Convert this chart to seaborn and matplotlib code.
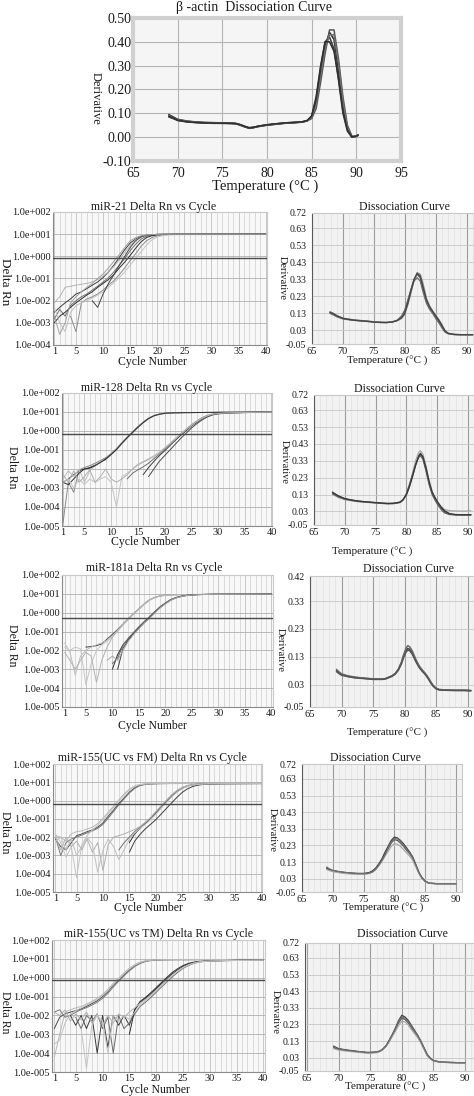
import numpy as np
import pandas as pd
import matplotlib
matplotlib.use("Agg")
import matplotlib.pyplot as plt
import seaborn as sns
from matplotlib.ticker import NullLocator

N = np.nan
W, H = 474, 1096

# ---------------- amplification data (Delta Rn per cycle) ----------------
CYCLES = list(range(1, 31)) + [33, 36, 40]
AMP_YTICKS = [1e2, 1e1, 1e0, 1e-1, 1e-2, 1e-3, 1e-4, 1e-5]
AMP_YLABELS = ["1.0e+002", "1.0e+001", "1.0e+000", "1.0e-001",
               "1.0e-002", "1.0e-003", "1.0e-004", "1.0e-005"]
CYCLE_TICKS = [1, 5, 10, 15, 20, 25, 30, 35, 40]

mir21_rn = {
    "A": [3e-3, 5e-3, 8e-3, 1.2e-2, 2e-2, 2.5e-2, 3.5e-2, 5e-2, 7e-2, 1.1e-1, 2e-1, 4e-1, 9e-1, 2.0, 4.0, 6.0, 8.0, 9.0, 9.5, 9.8,
          9.9, 10, 10, 10, 10, 10, 10.1, 10.1, 10.1, 10.1, 10.1, 10.2, 10.2],
    "B": [8e-3, 1.5e-2, 4e-2, 4.5e-2, 5e-2, 5.5e-2, 6e-2, 7e-2, 9e-2, 1.3e-1, 2e-1, 3.5e-1, 7e-1, 1.5, 3.0, 5.5, 7.5, 8.5, 9.0, 9.5,
          9.7, 9.8, 9.8, 9.9, 9.9, 9.9, 10, 10, 10, 10, 10, 10, 10.1],
    "C": [1.5e-3, 4e-3, 2e-3, 6e-3, 1e-2, 1.5e-2, 2e-2, 3e-2, 4.5e-2, 7e-2, 1.1e-1, 2e-1, 4e-1, 8e-1, 1.8, 3.5, 6.0, 8.0, 9.0, 9.5,
          9.7, 9.8, 9.8, 9.9, 9.9, 9.9, 9.9, 10, 10, 10, 10, 10, 10],
    "D": [1e-3, 2e-3, 3e-3, 5e-3, 8e-3, 1.2e-2, 1.8e-2, 2.5e-2, 4e-2, 6e-2, 9e-2, 1.5e-1, 3e-1, 5.5e-1, 1.1, 2.3, 4.5, 7.0, 8.5, 9.2,
          9.5, 9.7, 9.8, 9.8, 9.8, 9.9, 9.9, 9.9, 9.9, 9.9, 9.9, 9.9, 10],
    "E": [N, N, N, 2e-3, 4e-4, 8e-3, 1.2e-2, 1.5e-2, 2e-2, 3e-2, 5e-2, 8e-2, 1.5e-1, 3e-1, 6.5e-1, 1.3, 2.8, 5.0, 7.0, 8.5,
          9.2, 9.6, 9.7, 9.8, 9.8, 9.8, 9.8, 9.8, 9.8, 9.8, 9.8, 9.8, 9.9],
    "F": [5e-3, 1e-3, 4e-4, 3e-3, 6e-3, 8e-3, 1e-2, 1.3e-2, 1.8e-2, 2.5e-2, 4e-2, 6.5e-2, 1.1e-1, 2e-1, 4e-1, 8e-1, 1.6, 3.2, 5.5, 7.5,
          8.5, 9.2, 9.4, 9.5, 9.5, 9.5, 9.5, 9.5, 9.5, 9.5, 9.5, 9.6, 9.6],
    "G": [N, N, N, N, N, N, N, 1e-2, 5e-3, 2e-2, 6e-2, 1.5e-1, 4e-1, 1.0, 2.5, 5.0, 7.5, 9.0, 9.5, 9.8,
          10, 10, 10, 10, 10, 10, 10, 10, 10, 10, 10, 10, 10],
    "H": [2e-3, 3e-4, 1e-3, 8e-3, 1.5e-2, 2.5e-2, 4e-2, 6e-2, 1e-1, 1.6e-1, 3e-1, 6e-1, 1.2, 2.5, 5.0, 7.0, 8.5, 9.2, 9.6, 9.8,
          10, 10, 10, 10, 10, 10, 10, 10, 10, 10, 10, 10, 10],
}
mir21_threshold = 0.8

mir128_rn = {
    "E1": [2e-3, 3e-3, 5e-3, 8e-3, 1e-2, 1.2e-2, 1.6e-2, 2.3e-2, 3.5e-2, 6e-2, 1.1e-1, 2.3e-1, 4.5e-1, 8.5e-1, 1.6, 2.8, 4.5, 6.3, 7.6, 8.5,
           8.9, 9.1, 9.2, 9.3, 9.3, 9.4, 9.4, 9.5, 9.5, 9.6, 9.7, 9.8, 10],
    "E2": [1.5e-5, 2e-3, 6e-4, 9e-3, 1.2e-2, 1.5e-2, 2e-2, 2.8e-2, 4e-2, 6.5e-2, 1.2e-1, 2.4e-1, 4.8e-1, 9e-1, 1.7, 3.0, 4.8, 6.5, 7.8, 8.6,
           9.0, 9.1, 9.2, 9.3, 9.4, 9.4, 9.5, 9.5, 9.6, 9.6, 9.7, 9.8, 10],
    "E3": [3e-3, 8e-3, 4e-3, 1e-2, 2e-3, 8e-3, 1.5e-2, 2.5e-2, 3e-2, 5.5e-2, 1e-1, 2.1e-1, 4.3e-1, 8e-1, 1.5, 2.7, 4.4, 6.2, 7.5, 8.4,
           8.8, 9.0, 9.1, 9.2, 9.3, 9.3, 9.4, 9.4, 9.5, 9.5, 9.6, 9.7, 9.9],
    "E4": [2e-3, 1.5e-3, 3e-3, 6e-3, 1e-2, 1.1e-2, 1.5e-2, 2.2e-2, 3.3e-2, 5.8e-2, 1.05e-1, 2.2e-1, 4.4e-1, 8.3e-1, 1.55, 2.75, 4.5, 6.3, 7.6, 8.5,
           8.9, 9.1, 9.2, 9.3, 9.3, 9.4, 9.4, 9.5, 9.5, 9.6, 9.7, 9.8, 10],
    "La": [N, N, N, N, N, N, N, N, N, N, N, N, N, N, N, 5e-3, 1.2e-2, 2.5e-2, 5e-2, 9e-2,
           1.7e-1, 3.2e-1, 5.8e-1, 1.0, 1.8, 2.8, 4.3, 6.0, 7.3, 8.2, 9.2, 9.5, 9.8],
    "Lb": [N, N, N, N, N, N, N, N, N, N, N, N, 3e-3, 6e-3, 9e-3, 1.3e-2, 2e-2, 3.5e-2, 6e-2, 1.1e-1,
           2e-1, 3.8e-1, 7e-1, 1.2, 2.1, 3.3, 5.0, 6.6, 7.8, 8.5, 9.2, 9.5, 9.8],
    "Lc": [2e-3, 3e-3, 1e-3, 3e-3, 1.5e-3, 3e-3, 2e-3, 3e-3, 4e-3, 2e-3, 1e-4, 4e-3, 6e-3, 1e-2, 1.8e-2, 2.5e-2, 3.5e-2, 5e-2, 8e-2, 1.3e-1,
           2.2e-1, 4e-1, 7e-1, 1.2, 2.0, 3.1, 4.6, 6.2, 7.4, 8.2, 9.1, 9.4, 9.7],
    "Ld": [N, N, N, N, N, N, N, N, N, N, N, N, N, N, N, N, 4e-3, 1e-2, 2.5e-2, 5e-2,
           1e-1, 2e-1, 4e-1, 7.5e-1, 1.4, 2.4, 3.8, 5.5, 7.0, 8.0, 9.0, 9.4, 9.7],
    "Le": [5e-3, 2e-3, 8e-3, 2e-3, 4e-3, 9e-3, 2e-3, 4e-3, 1e-2, 3e-3, 2e-3, 3e-3, 5e-3, 1e-2, 1.6e-2, 2.3e-2, 3.2e-2, 4.5e-2, 7e-2, 1.2e-1,
           2.1e-1, 3.8e-1, 6.8e-1, 1.2, 2.0, 3.2, 4.8, 6.4, 7.6, 8.4, 9.2, 9.5, 9.8],
}
mir128_threshold = 0.72

mir181a_rn = {
    "A1": [N, N, N, N, 1.5e-2, 1.6e-2, 1.8e-2, 2.2e-2, 4e-2, 7e-2, 1.3e-1, 2.5e-1, 4.8e-1, 9e-1, 1.6, 2.9, 4.8, 6.5, 7.8, 8.5,
           8.9, 9.1, 9.2, 9.2, 9.3, 9.3, 9.3, 9.4, 9.4, 9.4, 9.5, 9.5, 9.6],
    "A2": [2.5e-2, 8e-3, 5e-4, 5e-3, 1e-2, 1.5e-2, 2e-2, 2.5e-2, 3.5e-2, 6e-2, 1.2e-1, 2.4e-1, 4.6e-1, 8.7e-1, 1.6, 2.8, 4.7, 6.4, 7.7, 8.4,
           8.8, 9.0, 9.1, 9.2, 9.2, 9.3, 9.3, 9.3, 9.4, 9.4, 9.5, 9.5, 9.6],
    "A3": [1.5e-2, 1e-2, 1.5e-2, 1.2e-2, 1.5e-4, 2e-3, 1e-2, 2e-2, 3e-2, 5.5e-2, 1.1e-1, 2.2e-1, 4.4e-1, 8.4e-1, 1.5, 2.7, 4.6, 6.3, 7.6, 8.4,
           8.8, 9.0, 9.1, 9.1, 9.2, 9.2, 9.3, 9.3, 9.3, 9.4, 9.4, 9.5, 9.5],
    "A4": [8e-3, 3e-3, 1e-3, 3e-3, 8e-3, 5e-3, 2e-4, 3e-3, 1.5e-2, 5e-2, 1.1e-1, 2.3e-1, 4.5e-1, 8.5e-1, 1.55, 2.8, 4.7, 6.4, 7.7, 8.4,
           8.8, 9.0, 9.1, 9.2, 9.2, 9.3, 9.3, 9.3, 9.4, 9.4, 9.5, 9.5, 9.6],
    "B1": [N, N, N, N, N, N, N, N, N, 1e-3, 6e-3, 2e-2, 4e-2, 8.5e-2, 1.7e-1, 3.2e-1, 5.8e-1, 1.1, 2.0, 3.2,
           4.9, 6.3, 7.5, 8.3, 8.8, 9.1, 9.3, 9.4, 9.5, 9.5, 9.6, 9.6, 9.7],
    "B2": [N, N, N, N, N, N, N, N, N, N, 1e-3, 1.3e-2, 3.5e-2, 7.5e-2, 1.5e-1, 2.9e-1, 5.3e-1, 1.0, 1.85, 3.0,
           4.6, 6.1, 7.3, 8.2, 8.7, 9.0, 9.2, 9.3, 9.4, 9.5, 9.5, 9.6, 9.7],
    "B3": [N, N, N, N, N, N, N, N, N, 2e-3, 4e-3, 1.8e-2, 4.5e-2, 9e-2, 1.8e-1, 3.4e-1, 6.2e-1, 1.15, 2.1, 3.3,
           5.0, 6.4, 7.6, 8.4, 8.9, 9.2, 9.3, 9.4, 9.5, 9.5, 9.6, 9.6, 9.7],
    "B4": [N, N, N, N, N, N, N, N, 3e-3, 5e-3, 3e-3, 1e-2, 3e-2, 7e-2, 1.4e-1, 2.8e-1, 5e-1, 9.5e-1, 1.8, 2.9,
           4.5, 6.0, 7.2, 8.1, 8.7, 9.0, 9.2, 9.3, 9.4, 9.4, 9.5, 9.6, 9.6],
}
mir181a_threshold = 0.52

mir155fm_rn = {
    "F1": [8e-3, 3e-3, 2e-3, 5e-3, 1.2e-2, 1.5e-2, 2e-2, 2.5e-2, 3.5e-2, 6e-2, 1.4e-1, 3e-1, 7e-1, 1.4, 2.9, 5.0, 6.9, 7.8, 8.2, 8.4,
           8.5, 8.5, 8.6, 8.6, 8.6, 8.6, 8.7, 8.7, 8.7, 8.7, 8.7, 8.7, 8.7],
    "F2": [1.2e-2, 1e-2, 6e-3, 1.5e-2, 2e-2, 2.2e-2, 2.8e-2, 3.5e-2, 5.5e-2, 1.1e-1, 2.3e-1, 5e-1, 1.1, 2.3, 4.3, 6.4, 7.6, 8.2, 8.5, 8.6,
           8.6, 8.7, 8.7, 8.7, 8.7, 8.7, 8.8, 8.8, 8.8, 8.8, 8.8, 8.8, 8.8],
    "F3": [1e-2, 1e-3, 5e-3, 8e-3, 1e-2, 1.3e-2, 1.7e-2, 2.2e-2, 3e-2, 5e-2, 1.1e-1, 2.5e-1, 5.8e-1, 1.25, 2.6, 4.6, 6.6, 7.6, 8.1, 8.3,
           8.4, 8.5, 8.5, 8.5, 8.6, 8.6, 8.6, 8.6, 8.6, 8.6, 8.6, 8.6, 8.6],
    "F4": [1.5e-2, 5e-3, 8e-4, 3e-3, 6e-5, 4e-3, 1.2e-2, 2.5e-2, 4.5e-2, 9e-2, 1.9e-1, 4.2e-1, 9.5e-1, 2.0, 3.8, 6.0, 7.4, 8.1, 8.4, 8.5,
           8.6, 8.6, 8.6, 8.7, 8.7, 8.7, 8.7, 8.7, 8.7, 8.7, 8.7, 8.7, 8.7],
    "G1": [N, N, N, N, N, N, N, N, N, N, N, N, N, N, 5e-3, 1.5e-2, 3e-2, 5.5e-2, 1e-1, 2e-1,
           4.2e-1, 8.5e-1, 1.7, 3.0, 4.7, 6.3, 7.3, 7.8, 8.1, 8.2, 8.4, 8.5, 8.6],
    "G2": [N, N, N, N, N, N, N, N, N, N, N, N, N, N, 1.5e-3, 6e-3, 1.4e-2, 2.8e-2, 5e-2, 9e-2,
           1.8e-1, 3.7e-1, 7.5e-1, 1.5, 2.8, 4.4, 5.9, 7.0, 7.6, 7.9, 8.2, 8.3, 8.4],
    "G3": [N, N, N, N, N, N, N, N, N, N, N, N, 2e-3, 5e-3, 1e-2, 2e-2, 3.5e-2, 6e-2, 1.1e-1, 2.3e-1,
           4.8e-1, 9.5e-1, 1.9, 3.3, 5.0, 6.5, 7.4, 7.9, 8.2, 8.3, 8.5, 8.6, 8.6],
    "G4": [1e-2, 2e-3, 1e-2, 3e-3, 6e-3, 2e-3, 8e-3, 1.5e-3, 5e-3, 1.5e-4, 4e-3, 1e-2, 1.2e-2, 1.5e-2, 2e-2, 2.6e-2, 3.8e-2, 6.5e-2, 1.2e-1, 2.5e-1,
           5.2e-1, 1.05, 2.1, 3.6, 5.3, 6.7, 7.5, 8.0, 8.2, 8.4, 8.5, 8.6, 8.7],
    "G5": [6e-3, 1e-2, 2e-3, 8e-3, 1e-3, 3e-3, 1e-2, 4e-3, 1.2e-4, 2e-3, 8e-3, 3e-3, 6e-4, 2e-3, 8e-3, 1.7e-2, 3e-2, 5e-2, 9e-2, 1.8e-1,
           3.8e-1, 7.8e-1, 1.6, 2.9, 4.5, 6.0, 7.1, 7.7, 8.0, 8.2, 8.3, 8.4, 8.5],
}
mir155fm_threshold = 0.61

mir155tm_rn = {
    "T1": [2e-3, 8e-3, 1.2e-2, 1.5e-2, 1.8e-2, 2.2e-2, 3e-2, 4.2e-2, 6e-2, 1e-1, 1.8e-1, 4e-1, 7.5e-1, 1.4, 2.6, 4.2, 6.0, 7.5, 8.3, 8.7,
           8.9, 9.0, 9.0, 9.1, 9.1, 9.1, 9.1, 9.1, 9.2, 9.2, 9.2, 9.2, 9.2],
    "T2": [6e-5, 1e-3, 1.5e-2, 2e-2, 2.5e-2, 3e-2, 4e-2, 5.5e-2, 8e-2, 1.3e-1, 2.4e-1, 5e-1, 9.5e-1, 1.8, 3.2, 5.0, 6.8, 8.0, 8.6, 8.9,
           9.1, 9.2, 9.2, 9.2, 9.3, 9.3, 9.3, 9.3, 9.3, 9.3, 9.3, 9.4, 9.4],
    "T3": [1.5e-2, 2e-2, 8e-3, 1e-2, 1.5e-2, 2e-2, 2.6e-2, 3.5e-2, 5e-2, 8e-2, 1.5e-1, 3.2e-1, 6.5e-1, 1.25, 2.3, 3.9, 5.7, 7.2, 8.1, 8.6,
           8.8, 8.9, 9.0, 9.0, 9.0, 9.0, 9.1, 9.1, 9.1, 9.1, 9.1, 9.2, 9.2],
    "T4": [3e-4, 5e-4, 4e-3, 1.2e-2, 1.8e-2, 2.5e-2, 3.5e-2, 5e-2, 7e-2, 1.15e-1, 2.1e-1, 4.5e-1, 8.5e-1, 1.6, 2.9, 4.6, 6.4, 7.7, 8.4, 8.8,
           9.0, 9.1, 9.1, 9.1, 9.2, 9.2, 9.2, 9.2, 9.2, 9.2, 9.2, 9.3, 9.3],
    "U1": [N, N, N, 1e-2, 3e-3, 1e-2, 2e-3, 1e-2, 1e-4, 1e-2, 2e-4, 1e-2, 3e-3, 1e-2, 3e-3, 2e-2, 5e-2, 8e-2, 1.4e-1, 2.6e-1,
           4.8e-1, 9e-1, 1.6, 2.6, 3.9, 5.3, 6.4, 7.1, 7.5, 7.8, 8.2, 8.5, 8.8],
    "U2": [N, N, N, N, 8e-3, 2e-3, 1e-2, 5e-3, 1.2e-2, 2e-3, 8e-3, 1e-4, 1e-2, 2e-3, 4e-3, 1.2e-2, 3e-2, 5e-2, 9e-2, 1.7e-1,
           3.2e-1, 6e-1, 1.1, 1.9, 3.1, 4.4, 5.7, 6.7, 7.3, 7.6, 8.0, 8.3, 8.6],
    "U3": [N, N, N, N, N, N, N, N, N, N, N, N, N, N, 1e-3, 2e-2, 5.5e-2, 9e-2, 1.6e-1, 3e-1,
           5.6e-1, 1.05, 1.9, 3.0, 4.4, 5.7, 6.7, 7.3, 7.6, 7.8, 8.2, 8.5, 8.8],
    "U4": [1.5e-2, 1e-2, 2e-2, 5e-3, 1.2e-2, 6e-3, 1.5e-2, 4e-3, 1.2e-2, 3e-3, 1e-2, 4e-3, 1.2e-2, 8e-3, 1.5e-2, 2.5e-2, 4.5e-2, 7e-2, 1.2e-1, 2.2e-1,
           4e-1, 7.5e-1, 1.35, 2.3, 3.5, 4.8, 6.0, 6.9, 7.4, 7.7, 8.1, 8.4, 8.7],
    "U5": [N, N, N, N, N, 2e-3, 1.5e-5, 3e-3, 1e-2, 5e-3, 1e-4, 1e-2, 5e-3, 1e-2, 6e-3, 1.5e-2, 3.5e-2, 6e-2, 1.1e-1, 2e-1,
           3.8e-1, 7e-1, 1.3, 2.2, 3.4, 4.7, 5.9, 6.8, 7.3, 7.6, 8.0, 8.3, 8.6],
}
mir155tm_threshold = 0.72

# ---------------- dissociation data (derivative vs temperature) ----------------
actin_temp = [69.0, 69.5, 70.0, 71.0, 72.0, 73.0, 74.0, 75.0, 76.0, 76.5, 77.0, 77.5, 78.0, 78.5, 79.0, 80.0, 81.0,
              82.0, 83.0, 84.0, 84.5, 85.0, 85.5, 86.0, 86.5, 87.0, 87.5, 88.0, 88.5, 89.0, 89.5, 90.0, 90.2]
actin_deriv = {
    "b1": [0.095, 0.085, 0.075, 0.068, 0.064, 0.062, 0.061, 0.060, 0.059, 0.058, 0.052, 0.045, 0.040, 0.042, 0.046, 0.052, 0.056,
           0.060, 0.062, 0.065, 0.070, 0.085, 0.15, 0.27, 0.38, 0.44, 0.41, 0.28, 0.13, 0.035, 0.0, 0.004, 0.008],
    "b2": [0.09, 0.082, 0.072, 0.066, 0.062, 0.060, 0.059, 0.058, 0.058, 0.057, 0.053, 0.046, 0.038, 0.040, 0.045, 0.051, 0.055,
           0.059, 0.061, 0.064, 0.068, 0.078, 0.12, 0.23, 0.35, 0.45, 0.45, 0.33, 0.17, 0.05, 0.005, 0.003, 0.008],
    "b3": [0.085, 0.078, 0.07, 0.064, 0.061, 0.059, 0.058, 0.058, 0.057, 0.056, 0.050, 0.043, 0.037, 0.040, 0.044, 0.050, 0.054,
           0.058, 0.060, 0.063, 0.069, 0.09, 0.17, 0.30, 0.40, 0.42, 0.37, 0.24, 0.10, 0.025, 0.0, 0.005, 0.01],
    "b4": [0.092, 0.08, 0.073, 0.067, 0.063, 0.061, 0.06, 0.059, 0.058, 0.057, 0.051, 0.044, 0.039, 0.041, 0.045, 0.051, 0.055,
           0.059, 0.061, 0.064, 0.069, 0.082, 0.14, 0.26, 0.37, 0.43, 0.43, 0.31, 0.15, 0.04, 0.002, 0.004, 0.009],
    "b5": [0.088, 0.08, 0.071, 0.065, 0.062, 0.06, 0.059, 0.059, 0.058, 0.057, 0.052, 0.045, 0.039, 0.041, 0.046, 0.052, 0.056,
           0.06, 0.062, 0.065, 0.07, 0.088, 0.16, 0.29, 0.40, 0.40, 0.36, 0.25, 0.11, 0.03, 0.001, 0.004, 0.009],
}

mir21_temp = [67.9, 68.5, 69.0, 70.0, 71.0, 72.0, 73.0, 74.0, 75.0, 76.0, 77.0, 78.0, 78.8, 79.5, 80.0, 80.5, 81.0,
              81.5, 82.0, 82.5, 83.0, 83.5, 84.0, 84.5, 85.0, 85.5, 86.0, 86.5, 87.0, 88.0, 89.0, 90.0, 91.0]
mir21_deriv = {
    "c1": [0.135, 0.125, 0.115, 0.10, 0.095, 0.09, 0.087, 0.084, 0.08, 0.078, 0.077, 0.08, 0.09, 0.11, 0.14, 0.20, 0.27,
           0.33, 0.36, 0.34, 0.27, 0.205, 0.165, 0.14, 0.11, 0.085, 0.055, 0.025, 0.012, 0.006, 0.005, 0.005, 0.005],
    "c2": [0.14, 0.13, 0.118, 0.102, 0.096, 0.091, 0.088, 0.085, 0.081, 0.079, 0.077, 0.079, 0.087, 0.10, 0.125, 0.18, 0.25,
           0.32, 0.37, 0.36, 0.30, 0.22, 0.175, 0.145, 0.12, 0.095, 0.065, 0.03, 0.014, 0.007, 0.005, 0.005, 0.005],
    "c3": [0.13, 0.12, 0.11, 0.097, 0.092, 0.088, 0.085, 0.082, 0.078, 0.076, 0.075, 0.079, 0.09, 0.115, 0.15, 0.21, 0.27,
           0.32, 0.34, 0.32, 0.25, 0.19, 0.155, 0.13, 0.10, 0.075, 0.045, 0.02, 0.01, 0.005, 0.004, 0.004, 0.004],
    "c4": [0.137, 0.127, 0.116, 0.101, 0.094, 0.089, 0.086, 0.083, 0.079, 0.077, 0.076, 0.08, 0.088, 0.105, 0.13, 0.19, 0.26,
           0.33, 0.365, 0.35, 0.28, 0.21, 0.17, 0.142, 0.115, 0.09, 0.06, 0.028, 0.013, 0.006, 0.005, 0.005, 0.005],
}

mir128_temp = [68.0, 68.5, 69.0, 70.0, 71.0, 72.0, 73.0, 74.0, 75.0, 76.0, 77.0, 78.0, 79.0, 79.5, 80.0, 80.5, 81.0,
               81.5, 82.0, 82.3, 82.7, 83.2, 83.7, 84.2, 84.7, 85.2, 85.7, 86.2, 87.0, 88.0, 89.0, 90.0, 90.5]
mir128_deriv = {
    "d1": [0.14, 0.13, 0.12, 0.105, 0.098, 0.092, 0.088, 0.085, 0.082, 0.079, 0.077, 0.078, 0.085, 0.10, 0.13, 0.18, 0.24,
           0.31, 0.36, 0.375, 0.35, 0.28, 0.2, 0.14, 0.105, 0.075, 0.05, 0.03, 0.015, 0.01, 0.01, 0.01, 0.01],
    "d2": [0.13, 0.122, 0.112, 0.1, 0.094, 0.089, 0.086, 0.083, 0.08, 0.078, 0.076, 0.077, 0.083, 0.097, 0.125, 0.18, 0.25,
           0.33, 0.38, 0.39, 0.37, 0.3, 0.21, 0.15, 0.11, 0.08, 0.058, 0.042, 0.035, 0.033, 0.032, 0.033, 0.034],
    "d3": [0.135, 0.126, 0.116, 0.103, 0.096, 0.09, 0.087, 0.084, 0.081, 0.078, 0.076, 0.077, 0.084, 0.1, 0.135, 0.19, 0.25,
           0.31, 0.35, 0.36, 0.34, 0.27, 0.19, 0.13, 0.095, 0.065, 0.04, 0.022, 0.012, 0.01, 0.01, 0.01, 0.01],
    "d4": [0.145, 0.133, 0.122, 0.107, 0.099, 0.093, 0.089, 0.086, 0.083, 0.08, 0.078, 0.079, 0.086, 0.102, 0.128, 0.175, 0.235,
           0.3, 0.355, 0.37, 0.355, 0.29, 0.21, 0.145, 0.11, 0.08, 0.055, 0.035, 0.018, 0.012, 0.011, 0.011, 0.011],
}

mir181a_temp = [69.2, 69.6, 70.0, 71.0, 72.0, 73.0, 74.0, 75.0, 76.0, 76.5, 77.0, 78.0, 78.5, 79.0, 79.5, 79.8, 80.2,
                80.5, 80.8, 81.2, 81.8, 82.3, 82.8, 83.3, 83.7, 84.1, 84.5, 85.0, 85.5, 86.5, 88.0, 89.5, 90.5]
mir181a_deriv = {
    "e1": [0.08, 0.072, 0.066, 0.06, 0.056, 0.054, 0.052, 0.05, 0.05, 0.05, 0.052, 0.062, 0.07, 0.085, 0.11, 0.13, 0.152,
           0.16, 0.157, 0.145, 0.115, 0.095, 0.08, 0.068, 0.055, 0.04, 0.027, 0.016, 0.012, 0.011, 0.01, 0.01, 0.009],
    "e2": [0.085, 0.076, 0.069, 0.062, 0.058, 0.055, 0.053, 0.051, 0.05, 0.05, 0.052, 0.061, 0.069, 0.083, 0.11, 0.135, 0.16,
           0.17, 0.166, 0.152, 0.12, 0.098, 0.083, 0.07, 0.057, 0.042, 0.028, 0.017, 0.013, 0.011, 0.01, 0.01, 0.009],
    "e3": [0.077, 0.07, 0.064, 0.059, 0.055, 0.053, 0.051, 0.049, 0.049, 0.049, 0.051, 0.06, 0.068, 0.082, 0.105, 0.125, 0.146,
           0.154, 0.152, 0.14, 0.112, 0.092, 0.078, 0.066, 0.053, 0.038, 0.025, 0.015, 0.011, 0.01, 0.009, 0.009, 0.008],
}

mir155fm_temp = [69.0, 69.5, 70.0, 71.0, 72.0, 73.0, 74.0, 75.0, 75.5, 76.0, 76.5, 77.0, 77.5, 78.0, 78.5, 79.0, 79.5,
                 80.0, 80.5, 81.0, 81.5, 82.0, 82.5, 83.0, 83.5, 84.0, 84.5, 85.0, 85.5, 86.0, 87.0, 88.5, 90.0]
mir155fm_deriv = {
    "f1": [0.09, 0.082, 0.076, 0.07, 0.065, 0.062, 0.06, 0.06, 0.062, 0.066, 0.075, 0.09, 0.115, 0.145, 0.18, 0.21, 0.245,
           0.265, 0.26, 0.245, 0.225, 0.2, 0.18, 0.155, 0.11, 0.065, 0.035, 0.015, 0.006, 0.002, 0.0, 0.0, 0.0],
    "f2": [0.095, 0.086, 0.079, 0.072, 0.067, 0.064, 0.062, 0.062, 0.064, 0.068, 0.078, 0.095, 0.12, 0.15, 0.19, 0.225, 0.26,
           0.28, 0.275, 0.26, 0.24, 0.215, 0.19, 0.16, 0.115, 0.068, 0.036, 0.016, 0.006, 0.002, 0.0, 0.0, 0.0],
    "f3": [0.085, 0.078, 0.073, 0.066, 0.061, 0.058, 0.056, 0.056, 0.058, 0.062, 0.07, 0.085, 0.108, 0.135, 0.165, 0.195, 0.225,
           0.24, 0.238, 0.225, 0.205, 0.185, 0.165, 0.14, 0.1, 0.06, 0.03, 0.013, 0.005, 0.002, 0.0, 0.0, 0.0],
    "f4": [0.1, 0.088, 0.08, 0.073, 0.068, 0.064, 0.061, 0.06, 0.061, 0.064, 0.072, 0.088, 0.112, 0.14, 0.175, 0.215, 0.25,
           0.27, 0.27, 0.255, 0.23, 0.205, 0.185, 0.155, 0.112, 0.066, 0.034, 0.014, 0.005, 0.002, 0.0, 0.0, 0.0],
}

mir155tm_temp = [69.2, 69.6, 70.0, 71.0, 72.0, 73.0, 74.0, 74.5, 75.0, 76.0, 76.5, 77.0, 77.5, 78.0, 78.5, 79.0, 79.5,
                 80.0, 80.5, 81.0, 81.5, 82.0, 82.5, 83.0, 83.5, 84.0, 84.5, 85.0, 86.0, 87.0, 88.0, 89.0, 90.0]
mir155tm_deriv = {
    "g1": [0.09, 0.085, 0.08, 0.075, 0.07, 0.066, 0.062, 0.06, 0.06, 0.063, 0.068, 0.08, 0.1, 0.13, 0.165, 0.2, 0.24,
           0.268, 0.26, 0.24, 0.21, 0.185, 0.16, 0.125, 0.085, 0.045, 0.025, 0.012, 0.004, 0.002, 0.001, 0.0, 0.0],
    "g2": [0.1, 0.092, 0.085, 0.078, 0.073, 0.068, 0.064, 0.062, 0.062, 0.064, 0.07, 0.082, 0.102, 0.135, 0.17, 0.21, 0.255,
           0.285, 0.275, 0.255, 0.225, 0.195, 0.165, 0.13, 0.09, 0.05, 0.027, 0.013, 0.004, 0.002, 0.001, 0.0, 0.0],
    "g3": [0.085, 0.08, 0.076, 0.071, 0.067, 0.063, 0.059, 0.057, 0.057, 0.06, 0.066, 0.078, 0.097, 0.125, 0.158, 0.19, 0.225,
           0.25, 0.245, 0.228, 0.2, 0.175, 0.15, 0.118, 0.08, 0.042, 0.022, 0.01, 0.003, 0.001, 0.0, 0.0, 0.0],
    "g4": [0.095, 0.088, 0.082, 0.076, 0.071, 0.067, 0.063, 0.061, 0.061, 0.064, 0.069, 0.081, 0.1, 0.132, 0.168, 0.205, 0.25,
           0.275, 0.268, 0.248, 0.218, 0.19, 0.163, 0.128, 0.088, 0.048, 0.026, 0.012, 0.004, 0.002, 0.001, 0.0, 0.0],
}

DISS_YT_FULL = [0.72, 0.63, 0.53, 0.43, 0.33, 0.23, 0.13, 0.03, -0.05]
DISS_YT_SMALL = [0.42, 0.33, 0.23, 0.13, 0.03, -0.05]
TEMP_TICKS = [65, 70, 75, 80, 85, 90]

# ---------------- styling ----------------
sns.set_theme(style="white")
plt.rcParams['font.family'] = ['Liberation Serif', 'DejaVu Serif']
plt.rcParams['axes.unicode_minus'] = False

fig = plt.figure(figsize=(W / 100, H / 100), dpi=100)
fig.patch.set_facecolor('white')


def add_ax(l, t, r, b):
    return fig.add_axes([l / W, 1 - b / H, (r - l) / W, (b - t) / H])


def txt(x, y, s, size, rot=0):
    fig.text(x / W, 1 - y / H, s, fontsize=size, rotation=rot, ha='center', va='center',
             color='#1a1a1a')


def long_df(xs, curves, xname, yname):
    rows = []
    for name, vals in curves.items():
        assert len(vals) == len(xs), (name, len(vals))
        for xv, yv in zip(xs, vals):
            rows.append((name, xv, yv))
    return pd.DataFrame(rows, columns=['curve', xname, yname])


def amp_panel(box, xlim, ymin, curves, colors, thr):
    ax = add_ax(*box)
    ax.set_facecolor('#f8f8f8')
    ax.set_yscale('log')
    df = long_df(CYCLES, curves, 'cycle', 'rn')
    pal = dict(zip(curves.keys(), colors))
    sns.lineplot(data=df, x='cycle', y='rn', units='curve', estimator=None, hue='curve',
                 palette=pal, legend=False, linewidth=0.7, ax=ax, sort=True)
    ax.axhline(thr, color='#4a4a4a', lw=1.0, zorder=5)
    ax.set_xlim(*xlim)
    ax.set_ylim(ymin, 100)
    yt = [v for v in AMP_YTICKS if v >= ymin * 0.999]
    ax.set_yticks(yt, AMP_YLABELS[:len(yt)])
    ax.yaxis.set_minor_locator(NullLocator())
    ax.set_xticks(CYCLE_TICKS, [str(c) for c in CYCLE_TICKS])
    ax.set_xticks(range(1, 41), minor=True)
    ax.set_axisbelow(True)
    ax.grid(True, which='minor', axis='x', color='#cdcdcd', lw=0.5)
    ax.grid(True, which='major', axis='x', color='#c0c0c0', lw=0.6)
    ax.grid(True, which='major', axis='y', color='#b0b0b0', lw=0.6)
    ax.tick_params(which='both', length=0, labelsize=7.5, pad=1.5, colors='#1a1a1a')
    ax.set_xlabel('')
    ax.set_ylabel('')
    for s, sp in ax.spines.items():
        sp.set_color('#8a8a8a' if s in ('left', 'bottom') else '#c8c8c8')
        sp.set_linewidth(0.8)
    return ax


def diss_panel(box, xlim, ylim, yticks, temps, curves, colors, lw=0.9):
    ax = add_ax(*box)
    ax.set_facecolor('#f2f2f2')
    df = long_df(temps, curves, 'temp', 'deriv')
    pal = dict(zip(curves.keys(), colors))
    sns.lineplot(data=df, x='temp', y='deriv', units='curve', estimator=None, hue='curve',
                 palette=pal, legend=False, linewidth=lw, ax=ax, sort=True)
    ax.set_xlim(*xlim)
    ax.set_ylim(*ylim)
    ax.set_yticks(yticks, [f"{v:.2f}" for v in yticks])
    ax.set_xticks(TEMP_TICKS, [str(t) for t in TEMP_TICKS])
    ax.set_xticks(range(66, 92), minor=True)
    ax.set_axisbelow(True)
    ax.grid(True, which='minor', axis='x', color='#dedede', lw=0.4)
    ax.grid(True, which='major', axis='x', color='#9c9c9c', lw=0.8)
    ax.grid(True, which='major', axis='y', color='#c6c6c6', lw=0.6)
    ax.tick_params(which='both', length=0, colors='#1a1a1a')
    ax.tick_params(axis='y', pad=4, labelsize=7)
    ax.tick_params(axis='x', pad=2.5, labelsize=7.5)
    ax.set_xlabel('')
    ax.set_ylabel('')
    for s, sp in ax.spines.items():
        sp.set_color('#5a5a5a' if s == 'left' else '#c8c8c8')
        sp.set_linewidth(0.8)
    return ax


# ---------------- top panel: beta-actin ----------------
ax = add_ax(133, 18, 401, 161)
ax.set_facecolor('#f5f5f5')
df = long_df(actin_temp, actin_deriv, 'temp', 'deriv')
sns.lineplot(data=df, x='temp', y='deriv', units='curve', estimator=None, hue='curve',
             palette=dict(zip(actin_deriv.keys(), ['#2a2a2a', '#555555', '#3a3a3a', '#707070', '#303030'])),
             legend=False, linewidth=1.1, ax=ax)
ax.set_xlim(65, 95)
ax.set_ylim(-0.10, 0.50)
top_yticks = [-0.10, 0.00, 0.10, 0.20, 0.30, 0.40, 0.50]
ax.set_yticks(top_yticks, [f"{v:.2f}" for v in top_yticks])
top_xticks = [65, 70, 75, 80, 85, 90, 95]
ax.set_xticks(top_xticks, [str(v) for v in top_xticks])
ax.set_axisbelow(True)
ax.grid(True, color='#b4b4b4', lw=0.8)
ax.tick_params(length=0, labelsize=10, colors='#1a1a1a')
ax.tick_params(axis='y', pad=1)
ax.tick_params(axis='x', pad=4.5)
ax.set_xlabel('')
ax.set_ylabel('')
for sp in ax.spines.values():
    sp.set_color('#d0d0d0')
    sp.set_linewidth(3)
txt(254, 7, "β -actin  Dissociation Curve", 10)
txt(265, 186, "Temperature (°C )", 10.5)
txt(96, 98, "Derivative", 9, rot=270)

# ---------------- row 1: miR-21 ----------------
amp_panel((53, 212, 267, 345), (0.76, 40.25), 1e-4, mir21_rn,
          ['#3c3c3c', '#b4b4b4', '#707070', '#2e2e2e', '#8c8c8c', '#c2c2c2', '#454545', '#a2a2a2'],
          mir21_threshold)
txt(154, 207, "miR-21 Delta Rn vs Cycle", 8.5)
txt(152, 362, "Cycle Number", 8.5)
txt(5, 282, "Delta Rn", 9.5, rot=270)
diss_panel((312, 213, 474, 344), (65.9, 91.2), (-0.05, 0.72), DISS_YT_FULL, mir21_temp, mir21_deriv,
           ['#555555', '#8a8a8a', '#6a6a6a', '#454545'])
txt(404, 207, "Dissociation Curve", 8.5)
txt(387, 361, "Temperature (°C )", 8)
txt(282, 278, "Derivative", 7.5, rot=270)

# ---------------- row 2: miR-128 ----------------
amp_panel((62, 393, 272, 526), (0.81, 40.1), 1e-5, mir128_rn,
          ['#3a3a3a', '#8a8a8a', '#bcbcbc', '#2e2e2e', '#3c3c3c', '#6e6e6e', '#c4c4c4', '#4a4a4a', '#b0b0b0'],
          mir128_threshold)
txt(147, 388, "miR-128 Delta Rn vs Cycle", 8.5)
txt(145, 542, "Cycle Number", 8.5)
txt(12, 467, "Delta Rn", 8.5, rot=270)
diss_panel((314, 395, 474, 525), (65.15, 90.5), (-0.05, 0.72), DISS_YT_FULL, mir128_temp, mir128_deriv,
           ['#444444', '#a8a8a8', '#5e5e5e', '#383838'])
txt(399, 389, "Dissociation Curve", 8.5)
txt(372, 552, "Temperature (°C )", 8)
txt(284, 462, "Derivative", 7.5, rot=270)

# ---------------- row 3: miR-181a ----------------
amp_panel((62, 575, 273, 707), (0.5, 40.3), 1e-5, mir181a_rn,
          ['#3a3a3a', '#bdbdbd', '#c6c6c6', '#b2b2b2', '#333333', '#404040', '#6a6a6a', '#a8a8a8'],
          mir181a_threshold)
txt(154, 568, "miR-181a Delta Rn vs Cycle", 8.5)
txt(152, 726, "Cycle Number", 8.5)
txt(12, 645, "Delta Rn", 8.5, rot=270)
diss_panel((310, 576, 474, 707), (65, 90.9), (-0.05, 0.42), DISS_YT_SMALL, mir181a_temp, mir181a_deriv,
           ['#444444', '#6a6a6a', '#555555'], lw=1.1)
txt(408, 569, "Dissociation Curve", 8.5)
txt(387, 733, "Temperature (°C )", 8)
txt(280, 650, "Derivative", 7.5, rot=270)

# ---------------- row 4: miR-155 (UC vs FM) ----------------
amp_panel((53, 764, 262, 892), (0.54, 40.1), 1e-5, mir155fm_rn,
          ['#4a4a4a', '#b8b8b8', '#7a7a7a', '#c4c4c4', '#2e2e2e', '#3e3e3e', '#6e6e6e', '#b0b0b0', '#c0c0c0'],
          mir155fm_threshold)
txt(152, 758, "miR-155(UC vs FM) Delta Rn vs Cycle", 8.5)
txt(148, 908, "Cycle Number", 8.5)
txt(5, 832, "Delta Rn", 8.5, rot=270)
diss_panel((302, 764, 462, 892), (65, 90.3), (-0.05, 0.72), DISS_YT_FULL, mir155fm_temp, mir155fm_deriv,
           ['#5a5a5a', '#3e3e3e', '#a8a8a8', '#707070'])
txt(375, 758, "Dissociation Curve", 8.5)
txt(383, 908, "Temperature (°C )", 8)
txt(272, 830, "Derivative", 7.5, rot=270)

# ---------------- row 5: miR-155 (UC vs TM) ----------------
amp_panel((52, 940, 265, 1072), (0.57, 40.3), 1e-5, mir155tm_rn,
          ['#4a4a4a', '#b8b8b8', '#7a7a7a', '#c0c0c0', '#3a3a3a', '#6a6a6a', '#2e2e2e', '#b0b0b0', '#c4c4c4'],
          mir155tm_threshold)
txt(158, 934, "miR-155(UC vs TM) Delta Rn vs Cycle", 8.5)
txt(155, 1090, "Cycle Number", 8.5)
txt(5, 1012, "Delta Rn", 8.5, rot=270)
diss_panel((305, 943, 474, 1071), (64.7, 91.4), (-0.05, 0.72), DISS_YT_FULL, mir155tm_temp, mir155tm_deriv,
           ['#5a5a5a', '#3e3e3e', '#a8a8a8', '#707070'])
txt(402, 934, "Dissociation Curve", 8.5)
txt(385, 1087, "Temperature (°C )", 8)
txt(275, 1012, "Derivative", 7.5, rot=270)

fig.savefig("out.png", dpi=100, facecolor='white')
